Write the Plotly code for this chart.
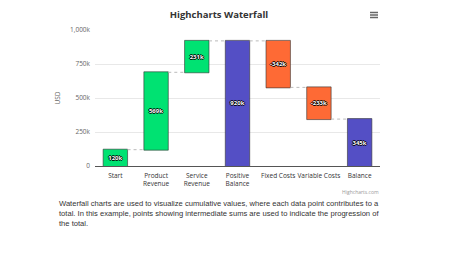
import plotly.graph_objects as go

categories = ["Start", "Product<br>Revenue", "Service<br>Revenue", "Positive<br>Balance",
              "Fixed Costs", "Variable Costs", "Balance"]
measures = ["relative", "relative", "relative", "total", "relative", "relative", "total"]
values = [120000, 569000, 231000, 0, -342000, -233000, 0]
ytick_vals = [0, 250000, 500000, 750000, 1000000]
ytick_text = ["0", "250k", "500k", "750k", "1,000k"]

# label text derived from the data (totals show running sum)
labels = []
run = 0
for m, v in zip(measures, values):
    if m == "total":
        labels.append(f"{run/1000:.0f}k")
    else:
        run += v
        labels.append(f"{v/1000:.0f}k")

W, H = 474, 262
L, R, T, B = 95, 94, 30, 96

def px(x):
    return (x - L) / (W - L - R)

def py(y):
    return (H - B - y) / (H - T - B)

fig = go.Figure()
fig.add_trace(go.Waterfall(
    x=categories, y=values, measure=measures,
    text=labels, textposition="inside", insidetextanchor="middle",
    textfont=dict(family="Open Sans, sans-serif", size=6, color="white", weight="bold",
                  shadow="1px 0 0 #000, -1px 0 0 #000, 0 1px 0 #000, 0 -1px 0 #000"),
    constraintext="none",
    increasing=dict(marker=dict(color="#00e272", line=dict(color="#333333", width=0.6))),
    decreasing=dict(marker=dict(color="#fe6a35", line=dict(color="#333333", width=0.6))),
    totals=dict(marker=dict(color="#544fc5", line=dict(color="#333333", width=0.6))),
    connector=dict(line=dict(color="#bbbbbb", width=1, dash="dot")),
    width=0.6, hoverinfo="skip", showlegend=False,
))

fig.update_layout(
    width=W, height=H, margin=dict(l=L, r=R, t=T, b=B),
    paper_bgcolor="white", plot_bgcolor="white",
    font=dict(family="Open Sans, sans-serif", color="#333333", size=7),
    title=dict(text="<b>Highcharts Waterfall</b>", x=px(219), xref="paper", xanchor="center",
               y=1 - 15 / H, yanchor="middle", font=dict(size=9.5, color="#333333")),
    xaxis=dict(showgrid=False, showline=True, linecolor="#555555", linewidth=1,
               tickangle=0, tickfont=dict(size=6.5, color="#333333"), ticks="",
               ticklabelstandoff=3, fixedrange=True),
    yaxis=dict(range=[0, 1000000], tickvals=ytick_vals, ticktext=ytick_text,
               showgrid=True, gridcolor="#e8e8e8", gridwidth=1, zeroline=False,
               tickfont=dict(size=6.5, color="#666666"), ticks="", ticklabelstandoff=4,
               title=dict(text="USD", font=dict(size=6.5, color="#666666"), standoff=8)),
)

# hamburger menu icon
for dy in (-2.5, 0, 2.5):
    fig.add_shape(type="line", xref="paper", yref="paper",
                  x0=px(370), x1=px(378), y0=py(15 + dy), y1=py(15 + dy),
                  line=dict(color="#666666", width=1.5))

fig.add_annotation(text="Highcharts.com", xref="paper", yref="paper",
                   x=px(381), y=py(192), xanchor="right", yanchor="middle",
                   showarrow=False, font=dict(size=5, color="#999999"))

desc = ("Waterfall charts are used to visualize cumulative values, where each data point contributes to a<br>"
        "total. In this example, points showing intermediate sums are used to indicate the progression of<br>"
        "the total.")
fig.add_annotation(text=desc, xref="paper", yref="paper", x=px(57), y=py(197),
                   xanchor="left", yanchor="top", align="left", showarrow=False,
                   font=dict(family="Liberation Sans, Arial, sans-serif", size=7.6, color="#333333"))

fig.write_html("out.html")
